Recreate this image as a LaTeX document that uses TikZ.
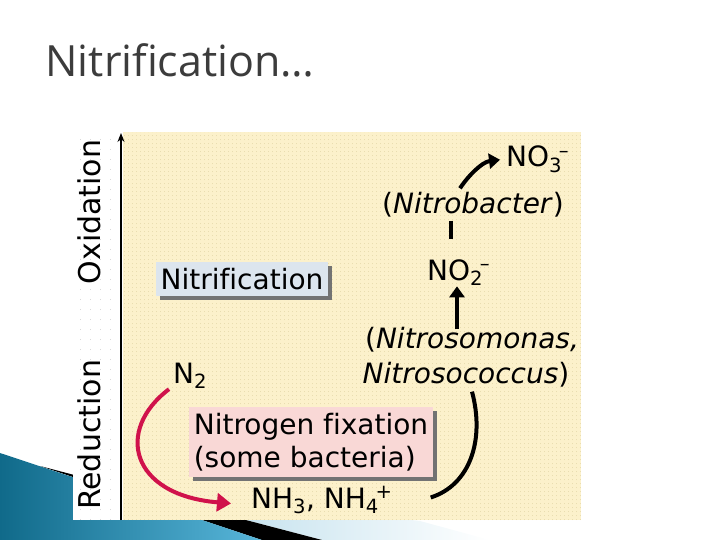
\documentclass[tikz,border=0pt]{standalone}
\usepackage{fontspec}
\setmainfont{DejaVu Sans}[Ligatures=NoCommon]
\newfontfamily\titlefont{Open Sans}[Ligatures=NoCommon]
\usetikzlibrary{arrows.meta,shadows}

\definecolor{panelyellow}{HTML}{FCF1CB}
\definecolor{dotyellow}{HTML}{E9DDB0}
\definecolor{boxblue}{HTML}{DCE5EE}
\definecolor{boxpink}{HTML}{F9D8D6}
\definecolor{fixred}{HTML}{D0124B}
\definecolor{titlegray}{HTML}{3C3C3C}
\definecolor{swooshdark}{HTML}{106A8A}
\definecolor{swooshlight}{HTML}{58B6DA}
\definecolor{swooshpale}{HTML}{A9D4E6}

\newcommand{\subsup}[2]{\textsubscript{#1}\hspace{-0.12em}\textsuperscript{#2}}

\tikzset{
  chem/.style={font=\fontsize{28}{33}\selectfont, inner sep=0pt},
  labelbox/.style={chem, align=left, inner xsep=5pt, inner ysep=6pt,
    drop shadow={shadow xshift=4pt, shadow yshift=-4pt, fill=black!55, opacity=1}},
  axislabel/.style={chem, font=\fontsize{30}{33}\selectfont, rotate=90},
  thickline/.style={line width=4pt},
  blackarrow/.style={thickline, -{Triangle[length=11pt,width=15pt]}},
  redarrow/.style={thickline, fixred, -{Triangle[length=14pt,width=18pt]}}
}

\begin{document}
\begin{tikzpicture}[x=1pt,y=-1pt]
\useasboundingbox (0,0) rectangle (720,540);

% slide swooshes
\shade[left color=swooshpale, right color=white] (110,484) -- (420,521) -- (490,540) -- (322,540) -- cycle;
\fill[black] (40,466) -- (322,540) -- (262,540) -- cycle;
\shade[shading angle=60, left color=swooshdark, right color=swooshlight] (0,453) -- (262,540) -- (0,540) -- cycle;

\node[anchor=base west, font=\titlefont\fontsize{43}{48}\selectfont, text=titlegray] (title) at (42,77) {Nitrification…};

% panel
\fill[white] (73,132) rectangle (123,520);
\fill[panelyellow] (123,132) rectangle (581,520);
\draw[dotyellow, line width=0.4pt, dash pattern=on 0.6pt off 3.4pt, step=4] (123,132) grid (581,520);
\draw[black!15, line width=0.5pt, dash pattern=on 0.6pt off 9.4pt, step=10] (73,132) grid (118,520);

\coordinate (axisbot) at (121,520);
\coordinate (axistop) at (121,133);
\draw[line width=1.2pt, -{Stealth[length=9pt,width=7pt]}] (axisbot) -- (axistop);

\node[axislabel] (oxid) at (89,212) {Oxidation};
\node[axislabel] (reduc) at (89,435) {Reduction};

\node[labelbox, fill=boxblue] (nitri) at (242,279) {Nitrification};
\node[labelbox, fill=boxpink] (fix) at (311,442) {Nitrogen fixation\\(some bacteria)};

\node[chem, anchor=base west] (no3) at (506,167) {NO\subsup{3}{–}};
\node[chem] (nbact) at (473,205) {(\textit{Nitrobacter})};
\node[chem, anchor=base west] (no2) at (427,280) {NO\subsup{2}{–}};
\node[chem] (nsm) at (472,340) {(\textit{Nitrosomonas,}};
\node[chem] (nsc) at (466,375) {\textit{Nitrosococcus})};
\node[chem, anchor=base west] (n2) at (173,383) {N\textsubscript{2}};
\node[chem, anchor=base west] (nh) at (251,508) {NH\textsubscript{3}, NH\subsup{4}{+}};

% connectors
\draw[redarrow] ([xshift=-4pt]n2.south west) .. controls (115,430) and (130,495) .. ([xshift=-20pt,yshift=-3pt]nh.west);
\draw[thickline] ([xshift=38pt,yshift=3pt]nh.east) .. controls (470,485) and (485,440) .. ([xshift=6pt,yshift=-4pt]nsc.south);
\draw[blackarrow] ([xshift=-15pt,yshift=-2pt]nsm.north) -- ++(0,-43);
\draw[thickline] ([xshift=-22pt,yshift=-3pt]nbact.south) -- ++(0,18);
\draw[blackarrow] ([xshift=-13pt,yshift=4pt]nbact.north) .. controls (468,176) and (482,162) .. ([xshift=-6pt]no3.west);
\end{tikzpicture}
\end{document}
